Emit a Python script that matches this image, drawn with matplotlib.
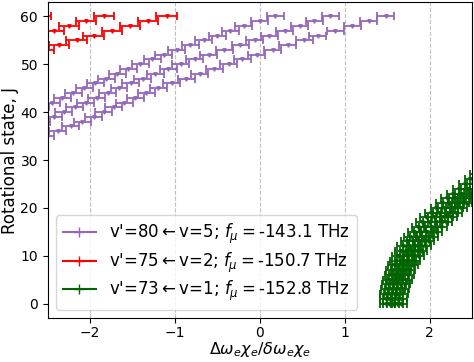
import numpy as np
import matplotlib
matplotlib.use('Agg')
import matplotlib.pyplot as plt
from matplotlib.lines import Line2D

# v'=80 <- v=5 (three branches)
p1_J = np.arange(41, 61)
p1_x = [-2.58, -2.45, -2.33, -2.20, -2.07, -1.94, -1.81, -1.68, -1.55, -1.41,
        -1.27, -1.13, -0.98, -0.82, -0.66, -0.50, -0.35, -0.19, 0.00, 0.18]
p2_J = np.arange(38, 61)
p2_x = [-2.57, -2.43, -2.31, -2.18, -2.05, -1.92, -1.79, -1.66, -1.52, -1.38,
        -1.23, -1.08, -0.93, -0.77, -0.60, -0.42, -0.23, -0.06, 0.11, 0.29,
        0.47, 0.64, 0.83]
p3_J = np.arange(35, 61)
p3_x = [-2.53, -2.38, -2.23, -2.09, -1.96, -1.84, -1.72, -1.60, -1.47, -1.34,
        -1.20, -1.04, -0.87, -0.71, -0.54, -0.37, -0.21, -0.04, 0.15, 0.33,
        0.52, 0.68, 0.89, 1.09, 1.28, 1.48]

# v'=75 <- v=2
r1_J = np.arange(57, 61)
r1_x = [-2.43, -2.25, -2.05, -1.84]
r2_J = np.arange(60, 61)
r2_x = [-2.58]
r3_J = np.arange(53, 61)
r3_x = [-2.55, -2.37, -2.16, -1.96, -1.74, -1.53, -1.32, -1.10]

# v'=73 <- v=1 (J starts at 0)
g1_x = [1.48, 1.48, 1.49, 1.50, 1.51, 1.52, 1.54, 1.56, 1.58, 1.60, 1.63, 1.66,
        1.69, 1.73, 1.77, 1.81, 1.86, 1.91, 1.96, 2.02, 2.08, 2.14, 2.20, 2.27,
        2.34, 2.41, 2.48, 2.55]
g2_x = [1.52, 1.52, 1.53, 1.54, 1.55, 1.57, 1.59, 1.61, 1.63, 1.66, 1.69, 1.72,
        1.76, 1.80, 1.84, 1.89, 1.94, 1.99, 2.05, 2.11, 2.17, 2.23, 2.30, 2.37,
        2.44, 2.51]
g3_x = [1.57, 1.57, 1.58, 1.59, 1.60, 1.62, 1.64, 1.66, 1.69, 1.72, 1.75, 1.79,
        1.83, 1.87, 1.92, 1.97, 2.02, 2.08, 2.14, 2.20, 2.26, 2.33, 2.40, 2.47,
        2.54]
g4_x = [1.61, 1.61, 1.62, 1.64, 1.65, 1.67, 1.69, 1.71, 1.74, 1.77, 1.81, 1.85,
        1.89, 1.93, 1.98, 2.03, 2.08, 2.14, 2.20, 2.26, 2.32, 2.39, 2.46, 2.53]
g5_x = [1.66, 1.66, 1.67, 1.69, 1.70, 1.72, 1.74, 1.76, 1.79, 1.82, 1.86, 1.90,
        1.94, 1.98, 2.03, 2.08, 2.13, 2.19, 2.25, 2.31, 2.37, 2.43, 2.50, 2.57]

series = [
    ('tab:purple', 0.10, [(p1_x, p1_J), (p2_x, p2_J), (p3_x, p3_J)]),
    ('red', 0.12, [(r1_x, r1_J), (r2_x, r2_J), (r3_x, r3_J)]),
    ('darkgreen', 0.07, [(g, np.arange(len(g))) for g in [g1_x, g2_x, g3_x, g4_x, g5_x]]),
]
labels = ["v'=80$\\leftarrow$v=5; $f_\\mu=$-143.1 THz",
          "v'=75$\\leftarrow$v=2; $f_\\mu=$-150.7 THz",
          "v'=73$\\leftarrow$v=1; $f_\\mu=$-152.8 THz"]

fig = plt.figure(figsize=(4.74, 3.62), dpi=100)
ax = fig.add_axes([0.1006, 0.1215, 0.8955, 0.873])

for color, err, branches in series:
    for bx, bJ in branches:
        ax.errorbar(bx, bJ, xerr=err, fmt='v', ms=2.5, color=color,
                    elinewidth=1.3, capsize=3, capthick=1.3)

handles = [Line2D([], [], color=c, marker='+', ms=7, lw=1.5) for c, _, _ in series]
ax.legend(handles, labels, loc='lower left', fontsize=12, labelspacing=0.25)

ax.set_xlim(-2.5, 2.5)
ax.set_yticks([0, 10, 20, 30, 40, 50, 60])
ax.grid(axis='x', ls='--', color='0.75', lw=0.8)
ax.tick_params(labelsize=10)
ax.tick_params(axis='x', pad=2.5)
ax.set_xlabel('$\\Delta\\omega_e\\chi_e/\\delta\\omega_e\\chi_e$', fontsize=11.5, labelpad=0)
ax.set_ylabel('Rotational state, J', fontsize=12, labelpad=1)

fig.savefig('out.png', dpi=100)
